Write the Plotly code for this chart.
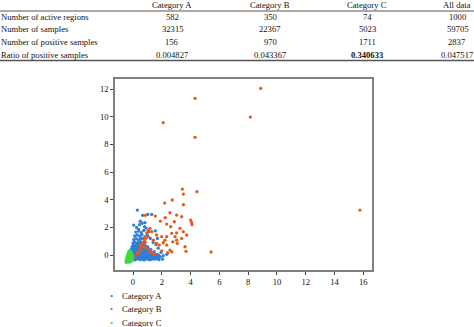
import plotly.graph_objects as go

# ---- summary table ----
row_labels = ["Number of active regions", "Number of samples",
              "Number of positive samples", "Ratio of positive samples"]
col_labels = ["Category A", "Category B", "Category C", "All data"]
active_regions = ["582", "350", "74", "1000"]
samples = ["32315", "22367", "5023", "59705"]
positive_samples = ["156", "970", "1711", "2837"]
positive_ratio = ["0.004827", "0.043367", "0.340633", "0.047517"]
table_rows = [active_regions, samples, positive_samples, positive_ratio]
bold_cell = (3, 2)

# ---- scatter data ----
categories = ["Category A", "Category B", "Category C"]
colors = ["#2f7ed8", "#e8591a", "#3ddc3a"]

cat_a_x = [-0.15, 0.0, 0.12, 0.25, 0.38, 0.5, 0.63, 0.77, 0.9, 1.05, 1.2, 1.34, 1.5, 1.65, 1.8,
           -0.22, -0.05, 0.08, 0.2, 0.33, 0.45, 0.58, 0.7, 0.85, 0.98, 1.1, 1.27, 1.42, 1.58, 1.73, 1.9,
           -0.2, -0.08, 0.05, 0.17, 0.3, 0.42, 0.55, 0.68, 0.8, 0.93, 1.07, 1.22, 1.38, 1.55, 1.68,
           -0.18, -0.03, 0.1, 0.24, 0.36, 0.5, 0.62, 0.75, 0.88, 1.02, 1.15, 1.3, 1.48,
           -0.12, 0.02, 0.15, 0.28, 0.4, 0.53, 0.66, 0.8, 0.95, 1.1, 1.25,
           -0.05, 0.08, 0.2, 0.34, 0.47, 0.6, 0.72, 0.86, 1.0,
           0.0, 0.14, 0.28, 0.42, 0.55, 0.7, 0.84,
           0.05, 0.22, 0.38, 0.52, 0.68,
           0.12, 0.3, 0.48, 0.62,
           0.2, 0.4, 0.58, 0.75,
           0.05, 0.39, 0.3, 0.67, 1.02, 1.3, 0.5, 0.63, 0.83, 0.25, 0.9,
           1.0, 1.2, 1.4, 1.6, 1.75, 1.95, 2.1, 2.05, 0.8, 1.1, 0.45,
           2.35, 1.7, 1.55,
           -0.1, 0.15, 0.42, 0.7, 0.95, 1.22, 1.5, 1.76,
           -0.15, 0.12, 0.38, 0.63, 0.9, 1.15, 1.45, 1.8,
           -0.14, 0.1, 0.36, 0.6, 0.86, 1.12, 1.4,
           -0.1, 0.15, 0.42, 0.68, 0.94, 1.2,
           -0.04, 0.22, 0.47, 0.73, 1.0,
           0.05, 0.3, 0.55, 0.8]
cat_a_y = [-0.32, -0.28, -0.35, -0.3, -0.26, -0.33, -0.29, -0.36, -0.27, -0.31, -0.34, -0.28, -0.3, -0.25, -0.33,
           -0.12, -0.18, -0.1, -0.16, -0.13, -0.2, -0.11, -0.17, -0.14, -0.09, -0.19, -0.12, -0.15, -0.1, -0.18, -0.13,
           0.06, 0.02, 0.09, 0.04, 0.0, 0.07, 0.03, 0.1, 0.05, -0.01, 0.08, 0.02, 0.06, 0.0, 0.04,
           0.22, 0.27, 0.2, 0.3, 0.24, 0.28, 0.21, 0.26, 0.31, 0.23, 0.27, 0.2, 0.25,
           0.42, 0.47, 0.44, 0.5, 0.41, 0.46, 0.49, 0.43, 0.48, 0.45, 0.4,
           0.62, 0.68, 0.64, 0.7, 0.63, 0.67, 0.71, 0.65, 0.6,
           0.88, 0.93, 0.86, 0.91, 0.95, 0.87, 0.92,
           1.12, 1.18, 1.1, 1.16, 1.2,
           1.38, 1.45, 1.36, 1.48,
           1.66, 1.74, 1.62, 1.78,
           2.17, 1.86, 3.25, 2.87, 2.94, 2.94, 2.45, 2.3, 2.34, 2.0, 1.95,
           1.45, 1.2, 0.9, 0.75, 0.5, 0.2, -0.05, -0.3, 2.05, 1.7, 2.2,
           0.05, 1.2, 1.75,
           -0.23, -0.21, -0.24, -0.22, -0.25, -0.2, -0.23, -0.24,
           -0.05, -0.03, -0.06, -0.04, -0.07, -0.02, -0.05, -0.03,
           0.15, 0.13, 0.16, 0.14, 0.17, 0.12, 0.15,
           0.35, 0.33, 0.37, 0.34, 0.36, 0.32,
           0.55, 0.57, 0.53, 0.56, 0.54,
           0.78, 0.76, 0.8, 0.77]

cat_b_x = [2.1, 4.31, 4.31, 8.15, 8.87, 15.76, 3.43, 3.5, 4.44, 2.2, 2.73, 3.5, 2.57, 5.42,
           0.86, 1.55, 1.9, 1.18, 1.06, 1.3, 0.95, 1.64, 0.83, 1.41,
           0.79, 1.64, 1.83, 0.49, 0.72, 1.18, 1.37, 4.0, 4.07, 4.1,
           3.03, 3.38, 2.87, 2.34, 2.62, 3.26, 3.03, 3.73, 3.38, 3.03,
           2.69, 2.34, 2.1, 2.34, 2.76, 3.08, 3.61, 3.68, 2.57, 2.41,
           2.69, 1.99, 2.22, 1.99, 2.92, 3.49, 2.24,
           0.72, 0.83, 0.88, 0.78, 1.06, 0.49, 0.6, 0.3, 0.5, 0.1, 0.95, 1.2, 1.5, 0.4]
cat_b_y = [9.57, 11.33, 8.51, 9.98, 12.05, 3.25, 4.77, 4.41, 4.58, 3.76, 3.98, 3.64, 3.06, 0.22,
           2.87, 2.82, 2.46, 1.93, 1.8, 1.69, 1.61, 1.45, 1.33, 1.08,
           1.03, 0.84, 0.72, 0.72, 0.6, 0.36, 0.12, 2.53, 2.36, 2.2,
           2.89, 2.77, 2.41, 2.24, 2.05, 1.93, 1.61, 1.45, 1.2, 1.08,
           1.57, 1.33, 0.89, 0.72, 0.96, 0.84, 0.6, 0.27, 0.36, 0.17,
           0.24, 0.31, 1.08, 1.33, 1.33, 1.69, 2.7,
           0.84, 0.96, 1.2, 0.6, 1.33, 0.48, 0.72, 0.1, 0.3, -0.1, 0.5, 0.2, 0.05, 0.2]

cat_c_x = [-0.48, -0.4, -0.32, -0.24, -0.16,
           -0.47, -0.39, -0.31, -0.23, -0.15, -0.08,
           -0.44, -0.36, -0.28, -0.2, -0.12, -0.05,
           -0.42, -0.34, -0.26, -0.18, -0.1, -0.03,
           -0.4, -0.32, -0.24, -0.16, -0.08,
           -0.37, -0.29, -0.21, -0.13, -0.06,
           -0.34, -0.26, -0.18, -0.1,
           -0.31, -0.23, -0.15,
           -0.27, -0.19]
cat_c_y = [-0.52, -0.5, -0.48, -0.51, -0.47,
           -0.41, -0.39, -0.42, -0.38, -0.4, -0.37,
           -0.3, -0.32, -0.29, -0.31, -0.28, -0.3,
           -0.2, -0.22, -0.19, -0.21, -0.18, -0.2,
           -0.1, -0.12, -0.09, -0.11, -0.08,
           0.0, -0.02, 0.01, -0.01, 0.02,
           0.1, 0.08, 0.11, 0.09,
           0.2, 0.18, 0.21,
           0.3, 0.28]

x_ticks = [0, 2, 4, 6, 8, 10, 12, 14, 16]
y_ticks = [0, 2, 4, 6, 8, 10, 12]

# ---- layout geometry (pixels) ----
W, H = 474, 327
ML, MR, MT, MB = 115, 102, 79, 57
PW, PH = W - ML - MR, H - MT - MB
FONT = "Liberation Serif, Times New Roman, serif"
TEXT = "#111111"


def px(x):
    return (x - ML) / PW


def py(y):
    return 1 - (y - MT) / PH


fig = go.Figure()
series = [(cat_a_x, cat_a_y), (cat_b_x, cat_b_y), (cat_c_x, cat_c_y)]
for name, color, (xs, ys) in zip(categories, colors, series):
    fig.add_trace(go.Scatter(x=xs, y=ys, mode="markers", name=name,
                             marker=dict(color=color, size=3.3, line=dict(width=0)),
                             showlegend=False))

annotations = []
shapes = []

# table header and body
col_centers = [172, 270, 367, 457]
header_y = 4.5
row_ys = [17, 29.5, 42, 54.5]
for cx, lab in zip(col_centers, col_labels):
    annotations.append(dict(x=px(cx), y=py(header_y), text=lab, xanchor="center"))
for ri, (lab, vals) in enumerate(zip(row_labels, table_rows)):
    annotations.append(dict(x=px(-1), y=py(row_ys[ri]), text=lab, xanchor="left"))
    for ci, (cx, v) in enumerate(zip(col_centers, vals)):
        txt = f"<b>{v}</b>" if (ri, ci) == bold_cell else v
        annotations.append(dict(x=px(cx), y=py(row_ys[ri]), text=txt, xanchor="center"))
shapes.append(dict(type="line", xref="paper", yref="paper", x0=px(0), x1=px(W),
                   y0=py(11), y1=py(11), line=dict(color="#555555", width=1)))
shapes.append(dict(type="line", xref="paper", yref="paper", x0=px(0), x1=px(W),
                   y0=py(60.5), y1=py(60.5), line=dict(color="#555555", width=1.6)))

# legend entries below the axes
legend_ys = [295.5, 309, 322.5]
for name, color, ly in zip(categories, colors, legend_ys):
    annotations.append(dict(x=px(111), y=py(ly), text="•", xanchor="center",
                            font=dict(color=color, size=9, family=FONT)))
    annotations.append(dict(x=px(120), y=py(ly), text=name, xanchor="left"))

for a in annotations:
    a.setdefault("font", dict(size=8.6, family=FONT, color=TEXT))
    a.update(xref="paper", yref="paper", yanchor="middle", showarrow=False)

axis_common = dict(showgrid=False, zeroline=False, showline=True, mirror=True,
                   linecolor="#808080", linewidth=1.5, ticks="outside", ticklen=3,
                   tickwidth=1, tickcolor="#444444",
                   tickfont=dict(size=8.6, family=FONT, color=TEXT))

fig.update_layout(
    width=W, height=H,
    margin=dict(l=ML, r=MR, t=MT, b=MB),
    paper_bgcolor="white", plot_bgcolor="white",
    xaxis=dict(range=[-1.25, 16.6], tickvals=x_ticks, **axis_common),
    yaxis=dict(range=[-1.08, 12.73], tickvals=y_ticks, **axis_common),
    annotations=annotations,
    shapes=shapes,
)

fig.write_html("out.html")
